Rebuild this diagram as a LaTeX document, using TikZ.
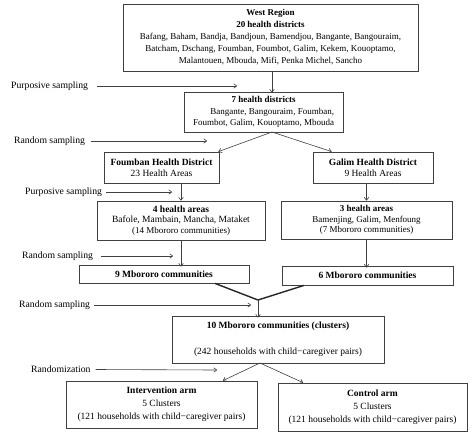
\documentclass[tikz,border=0pt]{standalone}
\usepackage{fontspec}
\setmainfont{Liberation Serif}
\usetikzlibrary{arrows.meta,calc}
\definecolor{linegray}{HTML}{404040}
\newcommand{\fs}[1]{\fontsize{#1}{12}\selectfont}
\tikzset{
  box/.style={draw=linegray, line width=0.8pt, inner sep=0pt, align=center, font=\fontsize{9}{12}\selectfont},
  arr/.style={draw=linegray, line width=0.6pt, -{To[length=3.5pt,width=5pt]}},
  thick line/.style={draw=black!85, line width=1.4pt},
  lbl/.style={anchor=west, inner sep=0pt, font=\fontsize{9.7}{12}\selectfont}
}
\begin{document}
\begin{tikzpicture}[x=1pt,y=-1pt]
\useasboundingbox (0,0) rectangle (474,440);
% boxes
\node[box, minimum width=295pt, minimum height=67pt] (top) at (270.5,37.5)
  {\textbf{West Region}\\\textbf{20 health districts}\\
   Bafang, Baham, Bandja, Bandjoun, Bamendjou, Bangante, Bangouraim,\\
   Batcham, Dschang, Foumban, Foumbot, Galim, Kekem, Kouoptamo,\\
   Malantouen, Mbouda, Mifi, Penka Michel, Sancho};
\node[box, minimum width=159pt, minimum height=40pt] (hd7) at (263.5,112)
  {\fontsize{9}{11.5}\selectfont\begin{tabular}{@{}r@{}}\multicolumn{1}{@{}c@{}}{\textbf{7 health districts}}\\
   Bangante, Bangouraim, Foumban,\\ Foumbot, Galim, Kouoptamo, Mbouda\end{tabular}};
\node[box, minimum width=115pt, minimum height=31pt, font=\fontsize{9.5}{11.5}\selectfont] (foumban) at (161.5,167.5)
  {\textbf{Foumban Health District}\\23 Health Areas};
\node[box, minimum width=120pt, minimum height=31pt, font=\fontsize{9.5}{11.5}\selectfont] (galim) at (373,167.5)
  {\textbf{Galim Health District}\\9 Health Areas};
\node[box, minimum width=168pt, minimum height=39pt, font=\fontsize{9.5}{10.8}\selectfont] (ha4) at (181,220.5)
  {\textbf{4 health areas}\\Bafole, Mambain, Mancha, Mataket\\{\fs{9}(14 Mbororo communities)}};
\node[box, minimum width=171pt, minimum height=38pt, font=\fontsize{9}{10.8}\selectfont] (ha3) at (366.5,220)
  {\textbf{3 health areas}\\Bamenjing, Galim, Menfoung\\(7 Mbororo communities)};
\node[box, minimum width=170pt, minimum height=18pt, font=\fontsize{9.5}{12}\selectfont] (m9) at (164,274)
  {\textbf{9 Mbororo communities}};
\node[box, minimum width=171pt, minimum height=19pt, font=\fontsize{9.5}{12}\selectfont] (m6) at (367.5,275.5)
  {\textbf{6 Mbororo communities}};
\node[box, minimum width=212pt, minimum height=47pt, font=\fontsize{9.5}{12}\selectfont] (m10) at (278,339.5)
  {\textbf{10 Mbororo communities (clusters)}\\[14pt](242 households with child−caregiver pairs)};
\node[box, minimum width=191pt, minimum height=47pt, font=\fontsize{9.5}{13}\selectfont] (interv) at (161.5,404.5)
  {\textbf{Intervention arm}\\5 Clusters\\(121 households with child−caregiver pairs)};
\node[box, minimum width=189pt, minimum height=48pt, font=\fontsize{9.5}{13}\selectfont] (control) at (372.5,407)
  {\textbf{Control arm}\\5 Clusters\\(121 households with child−caregiver pairs)};
% side labels
\node[lbl] (l1) at (11,86) {Purposive sampling};
\node[lbl] (l2) at (14,141) {Random sampling};
\node[lbl] (l3) at (25,192) {Purposive sampling};
\node[lbl] (l4) at (22,256) {Random sampling};
\node[lbl] (l5) at (19,305) {Random sampling};
\node[lbl] (l6) at (31,369.5) {Randomization};
\coordinate (e1) at (237,86);
\coordinate (e2) at (207,141);
\coordinate (e3) at (172,192);
\coordinate (e4) at (173,256);
\coordinate (e5) at (251,305);
\coordinate (e6) at (217,370);
\draw[arr] ([xshift=9pt]l1.east) -- (e1);
\draw[arr] ([xshift=6pt]l2.east) -- (e2);
\draw[arr] ([xshift=4pt]l3.east) -- (e3);
\draw[arr] ([xshift=8pt]l4.east) -- (e4);
\draw[arr] ([xshift=4pt]l5.east) -- (e5);
\draw[arr] ([xshift=5pt]l6.east) -- (e6);
% connectors
\coordinate (j1) at (272,0);
\draw[arr] (top.south -| j1) -- ([yshift=-1pt]hd7.north -| j1);
\coordinate (s7) at (272,132);
\draw[arr] (s7) -- ([xshift=-1pt]foumban.north east);
\draw[arr] (s7) -- ([xshift=19pt]galim.north west);
\draw[arr] (foumban.south -| ha4.north) -- (ha4.north);
\draw[arr] (galim.south -| ha3.north) -- (ha3.north);
\draw[arr] (ha4.south) -- ([yshift=-2pt]ha4.south |- m9.north);
\draw[arr] (ha3.south) -- ([yshift=-2pt]ha3.south |- m6.north);
\coordinate (jn) at (258,300);
\draw[thick line] (m9.south -| 215,0) -- (jn) -- (m6.south -| 304,0);
\draw[arr] (jn) -- ([yshift=-2pt]m10.north -| jn);
\coordinate (s10) at (260,363);
\draw[arr] (s10) -- (interv.north -| 223,0);
\draw[arr] (s10) -- (control.north -| 303,0);
\end{tikzpicture}
\end{document}
